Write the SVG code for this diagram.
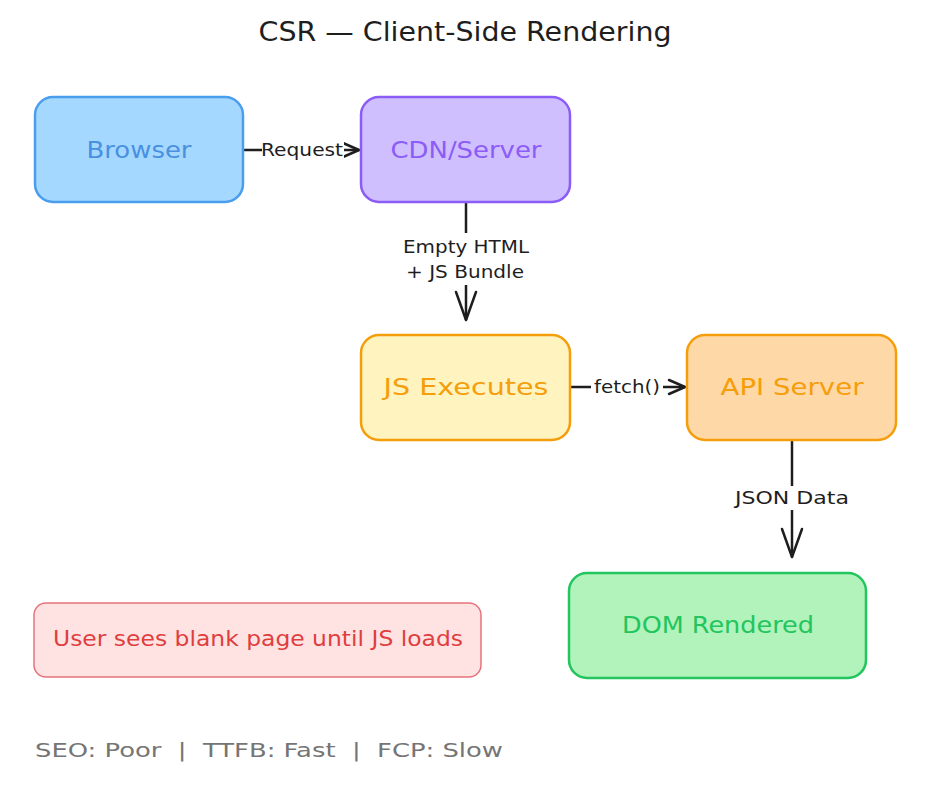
<svg xmlns="http://www.w3.org/2000/svg" width="951" height="788" viewBox="0 0 951 788">
<defs>
<style>
text{font-family:"DejaVu Sans","Liberation Sans",sans-serif;}
.node{stroke-width:2.5;}
.nt{font-size:23px;text-anchor:middle;dominant-baseline:central;}
.edge{stroke:#1e1e1e;stroke-width:2.5;fill:none;}
.el{font-size:17px;fill:#1e1e1e;text-anchor:middle;dominant-baseline:central;}
.bg{fill:#ffffff;}
</style>
<marker id="ah" viewBox="0 0 20 20" refX="18" refY="10" markerWidth="20" markerHeight="20" markerUnits="userSpaceOnUse" orient="auto">
<polyline points="2,3 18,10 2,17" fill="none" stroke="#1e1e1e" stroke-width="2.5" stroke-linecap="round" stroke-linejoin="round"/>
</marker>
<marker id="ahv" viewBox="0 0 32 24" refX="30" refY="12" markerWidth="32" markerHeight="24" markerUnits="userSpaceOnUse" orient="auto">
<polyline points="2,2 30,12 2,22" fill="none" stroke="#1e1e1e" stroke-width="2.5" stroke-linecap="round" stroke-linejoin="round"/>
</marker>
</defs>
<rect width="951" height="788" fill="#ffffff"/>
<text x="465" y="32" font-size="26" text-anchor="middle" dominant-baseline="central" fill="#1e1e1e" textLength="413" lengthAdjust="spacingAndGlyphs">CSR — Client-Side Rendering</text>

<g id="edges">
<g id="e1"><line class="edge" x1="243" y1="150" x2="359" y2="150" marker-end="url(#ah)"/><rect class="bg" x="262" y="139" width="82" height="22"/><text class="el" x="302" y="150" textLength="82" lengthAdjust="spacingAndGlyphs">Request</text></g>
<g id="e2"><line class="edge" x1="466" y1="202" x2="466" y2="320" marker-end="url(#ahv)"/><rect class="bg" x="400" y="233" width="132" height="52"/><text class="el" x="466" y="247" textLength="126" lengthAdjust="spacingAndGlyphs">Empty HTML</text><text class="el" x="465" y="272" textLength="118" lengthAdjust="spacingAndGlyphs">+ JS Bundle</text></g>
<g id="e3"><line class="edge" x1="570" y1="387" x2="685" y2="387" marker-end="url(#ah)"/><rect class="bg" x="591" y="376" width="72" height="22"/><text class="el" x="627" y="387" textLength="66" lengthAdjust="spacingAndGlyphs">fetch()</text></g>
<g id="e4"><line class="edge" x1="792" y1="440" x2="792" y2="557" marker-end="url(#ahv)"/><rect class="bg" x="733" y="486" width="118" height="24"/><text class="el" x="792" y="498" textLength="114" lengthAdjust="spacingAndGlyphs">JSON Data</text></g>
</g>

<g id="browser"><rect class="node" x="35" y="97" width="208" height="105" rx="18" fill="#a5d8ff" stroke="#4a9eed"/><text class="nt" x="139" y="150" fill="#4a90e2" textLength="105" lengthAdjust="spacingAndGlyphs">Browser</text></g>
<g id="cdn"><rect class="node" x="361" y="97" width="209" height="105" rx="18" fill="#d0bfff" stroke="#8b5cf6"/><text class="nt" x="466" y="150" fill="#8b5cf6" textLength="151" lengthAdjust="spacingAndGlyphs">CDN/Server</text></g>
<g id="js"><rect class="node" x="361" y="335" width="209" height="105" rx="18" fill="#fff3bf" stroke="#f59e0b"/><text class="nt" x="466" y="387" fill="#f59e0b" textLength="165" lengthAdjust="spacingAndGlyphs">JS Executes</text></g>
<g id="api"><rect class="node" x="687" y="335" width="209" height="105" rx="18" fill="#ffd8a8" stroke="#f59e0b"/><text class="nt" x="792" y="387" fill="#f59e0b" textLength="143" lengthAdjust="spacingAndGlyphs">API Server</text></g>
<g id="dom"><rect class="node" x="569" y="573" width="297" height="105" rx="18" fill="#b2f2bb" stroke="#22c55e"/><text class="nt" x="718" y="625" fill="#22c55e" textLength="192" lengthAdjust="spacingAndGlyphs">DOM Rendered</text></g>
<g id="note"><rect x="34" y="603" width="447" height="74" rx="12" fill="#ffe3e3" stroke="#e8737b" stroke-width="1.5"/><text x="258" y="639" font-size="21" text-anchor="middle" dominant-baseline="central" fill="#e03e3e" textLength="410" lengthAdjust="spacingAndGlyphs">User sees blank page until JS loads</text></g>
<g id="footer"><text x="35" y="750" font-size="20" dominant-baseline="central" fill="#757575" xml:space="preserve" textLength="468" lengthAdjust="spacingAndGlyphs">SEO: Poor  |  TTFB: Fast  |  FCP: Slow</text></g>
</svg>
